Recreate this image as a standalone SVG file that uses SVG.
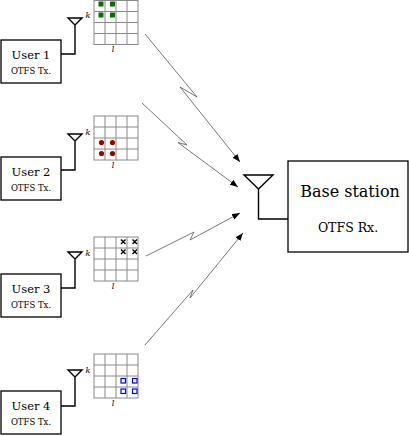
<svg xmlns="http://www.w3.org/2000/svg" width="409" height="436" viewBox="0 0 409 436">
<style>
.box{fill:#fff;stroke:#000;stroke-width:1.3}
.ant{fill:none;stroke:#000;stroke-width:1.4;stroke-linejoin:miter}
.grid{fill:none;stroke:#8a8a8a;stroke-width:1}
text{font-family:'DejaVu Serif','Liberation Serif',serif;fill:#000;text-anchor:middle}
.t1{font-size:11.5px}
.t2{font-size:8.5px}
.ax{font-style:italic;font-size:8px}
.bs1{font-size:16px}
.bs2{font-size:12.5px}
.link{fill:none;stroke:#555;stroke-width:0.8;marker-end:url(#arr)}
.gr{fill:#0b6b0b}
.rd{fill:#a00000}
.bl{fill:none;stroke:#0000ff;stroke-width:1.2}
.cx{stroke:#000;stroke-width:1.4}
</style>
<defs>
<marker id="arr" markerUnits="userSpaceOnUse" markerWidth="10" markerHeight="8" refX="8" refY="3" orient="auto">
<path d="M0,0 L8,3 L0,6 Z" fill="#000"/>
</marker>
<g id="gridshape">
<rect x="0" y="0" width="44" height="44" class="grid"/>
<path d="M11,0V44M22,0V44M33,0V44M0,11H44M0,22H44M0,33H44" class="grid"/>
</g>
</defs>

<g id="user1">
<rect x="1" y="40" width="60" height="43" class="box"/>
<text x="31" y="59" class="t1">User 1</text>
<text x="31" y="74" class="t2">OTFS Tx.</text>
<path d="M68,18 H82 L75,25 Z M75,25 V54 H61" class="ant"/>
<use href="#gridshape" x="94" y="0.5"/>
<rect x="98.5" y="1.5" width="5" height="5" class="gr"/>
<rect x="110" y="1.5" width="5" height="5" class="gr"/>
<rect x="98.5" y="12.5" width="5" height="5" class="gr"/>
<rect x="110" y="12.5" width="5" height="5" class="gr"/>
<text x="88" y="18" class="ax">k</text>
<text x="113" y="52" class="ax">l</text>
</g>

<g id="user2">
<rect x="1" y="157" width="60" height="43" class="box"/>
<text x="31" y="176" class="t1">User 2</text>
<text x="31" y="191" class="t2">OTFS Tx.</text>
<path d="M68,134 H82 L75,141 Z M75,141 V170 H61" class="ant"/>
<use href="#gridshape" x="94" y="116"/>
<circle cx="101.5" cy="142.5" r="2.6" class="rd"/>
<circle cx="112.5" cy="142.5" r="2.6" class="rd"/>
<circle cx="101.5" cy="153.5" r="2.6" class="rd"/>
<circle cx="112.5" cy="153.5" r="2.6" class="rd"/>
<text x="88" y="135" class="ax">k</text>
<text x="113" y="168" class="ax">l</text>
</g>

<g id="user3">
<rect x="1" y="274" width="60" height="43" class="box"/>
<text x="31" y="293" class="t1">User 3</text>
<text x="31" y="308" class="t2">OTFS Tx.</text>
<path d="M68,252 H82 L75,259 Z M75,259 V288 H61" class="ant"/>
<use href="#gridshape" x="94" y="237"/>
<path d="M121,239.5 l4.5,4.5 m0,-4.5 l-4.5,4.5 M132.5,239.5 l4.5,4.5 m0,-4.5 l-4.5,4.5 M121,249.5 l4.5,4.5 m0,-4.5 l-4.5,4.5 M132.5,249.5 l4.5,4.5 m0,-4.5 l-4.5,4.5" class="cx"/>
<text x="88" y="256" class="ax">k</text>
<text x="113" y="289" class="ax">l</text>
</g>

<g id="user4">
<rect x="1" y="391" width="60" height="43" class="box"/>
<text x="31" y="410" class="t1">User 4</text>
<text x="31" y="425" class="t2">OTFS Tx.</text>
<path d="M68,370 H82 L75,377 Z M75,377 V406 H61" class="ant"/>
<use href="#gridshape" x="94" y="354"/>
<rect x="121" y="378.5" width="4.5" height="4.5" class="bl"/>
<rect x="132.5" y="378.5" width="4.5" height="4.5" class="bl"/>
<rect x="121" y="389" width="4.5" height="4.5" class="bl"/>
<rect x="132.5" y="389" width="4.5" height="4.5" class="bl"/>
<text x="88" y="373" class="ax">k</text>
<text x="113" y="406" class="ax">l</text>
</g>

<g id="basestation">
<rect x="288" y="161" width="120" height="91" class="box"/>
<text x="350" y="197" class="bs1">Base station</text>
<text x="348" y="232" class="bs2">OTFS Rx.</text>
<path d="M244,175 H273 L258.5,189 Z M258.5,189 V219 H288" class="ant"/>
</g>

<g id="connectors">
<path d="M145,34 L197,97 L180,87 L240,162" class="link"/>
<path d="M142,103 L187,145 L178,142.5 L238,187" class="link"/>
<path d="M146,256 L194,232 L190,240 L240,213" class="link"/>
<path d="M145,345 L193,290 L190,298 L243,233" class="link"/>
</g>
</svg>
